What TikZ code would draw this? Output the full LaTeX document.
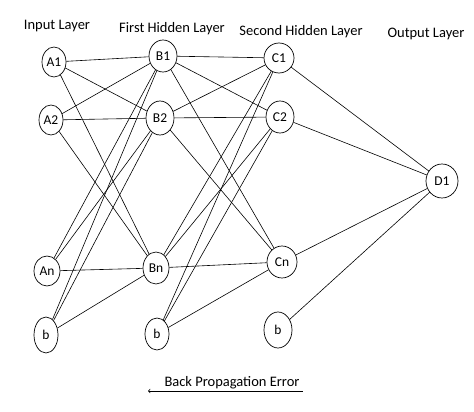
\documentclass[tikz,border=0pt]{standalone}
\usepackage{fontspec}
\setmainfont{Carlito}
\usepackage{tikz}
\usetikzlibrary{shapes.geometric, arrows}

\begin{document}
\begin{tikzpicture}[x=1pt, y=-1pt]
\tikzstyle{neuron} = [ellipse, draw=black, line width=0.7pt, inner sep=0pt, minimum width=26pt, minimum height=32pt, font=\fontsize{13.5}{15}\selectfont]
\tikzstyle{layer} = [font=\fontsize{14.5}{16}\selectfont]
\tikzstyle{link} = [draw=black, line width=0.6pt]
\useasboundingbox (0,0) rectangle (474,412);

% layer titles
\node (tin)  [layer] at (57,26) {Input Layer};
\node (th1)  [layer] at (172,29) {First Hidden Layer};
\node (th2)  [layer] at (301,32) {Second Hidden Layer};
\node (tout) [layer] at (426,34) {Output Layer};

% input layer
\node (A1) [neuron, minimum width=24pt, minimum height=30pt] at (54,62) {A1};
\node (A2) [neuron, minimum width=24pt, minimum height=30pt] at (51,120) {A2};
\node (An) [neuron, minimum width=26pt, minimum height=30pt] at (47,271) {An};
\node (bA) [neuron, minimum width=24pt, minimum height=36pt] at (46,335) {b};

% first hidden layer
\node (B1) [neuron, minimum width=28pt] at (163,56) {B1};
\node (B2) [neuron, minimum width=28pt, minimum height=34pt] at (160,118) {B2};
\node (Bn) [neuron] at (156,268) {Bn};
\node (bB) [neuron, minimum width=24pt] at (157,334) {b};

% second hidden layer
\node (C1) [neuron, minimum width=30pt, minimum height=30pt] at (279,58) {C1};
\node (C2) [neuron, minimum width=28pt] at (280,117) {C2};
\node (Cn) [neuron, minimum width=30pt] at (282,262) {Cn};
\node (bC) [neuron, minimum width=28pt, minimum height=36pt] at (278,330) {b};

% output layer
\node (D1) [neuron, minimum width=32pt, minimum height=34pt] at (442,181) {D1};

\foreach \s in {A1, A2, An, bA}
  \foreach \t in {B1, B2, Bn}
    \draw [link] (\s) -- (\t);
\foreach \s in {B1, B2, Bn, bB}
  \foreach \t in {C1, C2, Cn}
    \draw [link] (\s) -- (\t);
\foreach \s in {C1, C2, Cn, bC}
  \draw [link] (\s) -- (D1);

% back propagation
\node (bp) [layer] at (232,383) {Back Propagation Error};
\coordinate (bpend) at (148,391);
\draw [to-, line width=0.7pt] (bpend) -- (bp.south east |- bpend);

\end{tikzpicture}
\end{document}
